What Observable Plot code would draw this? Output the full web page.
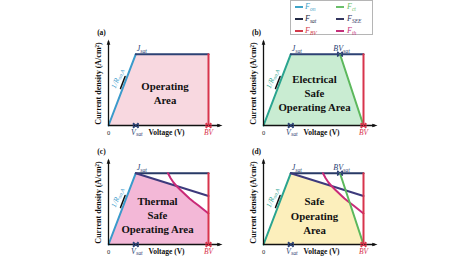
<!DOCTYPE html>
<html><head><meta charset="utf-8">
<script src="https://cdn.jsdelivr.net/npm/d3@7"></script>
<script src="https://cdn.jsdelivr.net/npm/@observablehq/plot@0.6"></script>
<style>
body{margin:0;background:#fff;}
#wrap{position:relative;width:474px;height:256px;overflow:hidden;background:#fff;font-family:"Liberation Serif",serif;}
#legend{position:absolute;left:290px;top:0px;width:83px;height:35px;border:1px solid #b5b5b5;box-sizing:border-box;background:#fff;}
.item{position:absolute;font-style:italic;font-size:8px;line-height:8px;white-space:nowrap;}
.item sub{font-size:5.5px;vertical-align:-1.5px;line-height:0;}
.sw{position:absolute;width:8px;height:1.6px;}
</style></head><body><div id="wrap"></div>
<script>
// ---- data (arbitrary schematic units) ----
const ids = ["(a)", "(b)", "(c)", "(d)"];
const areaNames = ["Operating\nArea", "Electrical\nSafe\nOperating Area", "Thermal\nSafe\nOperating Area", "Safe\nOperating\nArea"];
const limits = [["on","sat","BV"], ["on","sat","ct","BV"], ["on","sat","SEE","th","BV"], ["on","sat","SEE","th","ct","BV"]];
const Vsat = 27.3;
const BV = 100;
const BVsat = 76.5;
const Jsat = 71.3;
const JseeEnd = 48.5;
const thV = [59.5, 62, 65, 68, 72, 77, 81, 85, 90, 95, 100];
const thJ = [71.3, 66.5, 62, 58.5, 54.5, 49.7, 46, 42.8, 39, 35, 31];
const xMax = 114, yMax = 86;
const legendKeys = ["on", "ct", "sat", "SEE", "BV", "th"];
const legendSubs = ["on", "ct", "sat", "SEE", "BV", "th"];

// ---- styles / layout ----
const fills = ["#f8d8e0", "#c9ecd2", "#f3b8d7", "#fcefbc"];
const onColors = ["#3a9acb", "#2aa48f", "#3a9acb", "#2aa48f"];
const colors = {on: "#3fa3c6", ct: "#5cb85c", sat: "#283a66", SEE: "#3d3a7c", th: "#c92a78", BV: "#d8344c"};
const legendColors = {on: "#3fa3c6", ct: "#6bbf6b", sat: "#222a44", SEE: "#33365f", th: "#c4307a", BV: "#d23a4a"};
const labelPos = [[56.5, 33], [51, 33], [49, 30], [51, 29.5]];
const origins = [[108, 125], [263, 125], [108, 244], [263, 244]];
const navy = "#2d4274";

const th = thV.map((v, k) => [v, thJ[k]]);
const seeJ = v => Jsat + (JseeEnd - Jsat) * (v - Vsat) / (BV - Vsat);
const ctJ = v => Jsat * (BV - v) / (BV - BVsat);
function cross(f) {
  for (let k = 1; k < th.length; k++) {
    const a = th[k - 1], b = th[k];
    const da = a[1] - f(a[0]), db = b[1] - f(b[0]);
    if (da * db <= 0 && da !== db) {
      const t = da / (da - db);
      return [k, [a[0] + t * (b[0] - a[0]), a[1] + t * (b[1] - a[1])]];
    }
  }
  return [th.length, th[th.length - 1]];
}
const [kSee, pSee] = cross(seeJ);
const [kCt, pCt] = cross(ctJ);
const polys = [
  [[0, 0], [Vsat, Jsat], [BV, Jsat], [BV, 0]],
  [[0, 0], [Vsat, Jsat], [BVsat, Jsat], [BV, 0]],
  [[0, 0], [Vsat, Jsat], pSee, ...th.slice(kSee), [BV, 0]],
  [[0, 0], [Vsat, Jsat], pSee, ...th.slice(kSee, kCt), pCt, [BV, 0]]
];
const lines = {
  sat: [[Vsat, Jsat], [BV, Jsat]],
  SEE: [[Vsat, Jsat], [BV, JseeEnd]],
  th: th,
  ct: [[BVsat, Jsat], [BV, 0]],
  BV: [[BV, Jsat], [BV, 0]]
};

const bowtie = {draw(ctx, size) {
  const r = Math.sqrt(size / Math.PI);
  ctx.moveTo(-r, -r); ctx.lineTo(r, r);
  ctx.moveTo(-r, r); ctx.lineTo(r, -r);
  ctx.moveTo(-r, -r); ctx.lineTo(-r, r);
  ctx.moveTo(r, -r); ctx.lineTo(r, r);
}};
const arrowHead = {draw(ctx, size) {
  const r = Math.sqrt(size / Math.PI);
  ctx.moveTo(0, 0); ctx.lineTo(-r * 0.75, r * 2.2); ctx.lineTo(r * 0.75, r * 2.2); ctx.closePath();
}};

const X = d => d[0], Y = d => d[1];
const ns = "http://www.w3.org/2000/svg";
function applySubs(svg) {
  svg.querySelectorAll("text").forEach(t => {
    if (t.querySelector("tspan")) return;
    const s = t.textContent, k = s.indexOf("_");
    if (k < 0) return;
    t.textContent = "";
    const a = document.createElementNS(ns, "tspan"); a.textContent = s.slice(0, k);
    const b = document.createElementNS(ns, "tspan"); b.textContent = s.slice(k + 1);
    b.setAttribute("font-size", "72%"); b.setAttribute("dy", "1.8");
    t.append(a, b);
  });
}

const wrap = document.getElementById("wrap");
ids.forEach((id, i) => {
  const has = limits[i];
  const marks = [];
  marks.push(Plot.line(polys[i], {x: X, y: Y, fill: fills[i], stroke: "none"}));
  marks.push(Plot.line([[0, 0], [Vsat, Jsat]], {x: X, y: Y, stroke: onColors[i], strokeWidth: 2}));
  for (const key of ["sat", "SEE", "th", "ct", "BV"]) {
    if (has.includes(key)) marks.push(Plot.line(lines[key], {x: X, y: Y, stroke: key === "sat" && i < 2 ? navy : colors[key], strokeWidth: 2}));
  }
  // slope indicator
  marks.push(Plot.line([[12, 37], [16.6, 49]], {x: X, y: Y, stroke: "#111", strokeWidth: 1.5}));
  // axes
  marks.push(Plot.ruleY([0], {x1: 0, x2: xMax - 2, stroke: "#111", strokeWidth: 1.3}));
  marks.push(Plot.ruleX([0], {y1: 0, y2: yMax - 2, stroke: "#111", strokeWidth: 1.3}));
  marks.push(Plot.dot([[0, yMax]], {x: X, y: Y, symbol: arrowHead, r: 2.4, fill: "#111", stroke: "none"}));
  marks.push(Plot.dot([[xMax, 0]], {x: X, y: Y, symbol: arrowHead, r: 2.4, rotate: 90, fill: "#111", stroke: "none"}));
  // markers
  marks.push(Plot.dot([[Vsat, 0]], {x: X, y: Y, symbol: bowtie, r: 2.5, fill: "none", stroke: navy, strokeWidth: 1.1}));
  marks.push(Plot.dot([[BV, 0]], {x: X, y: Y, symbol: bowtie, r: 2.5, fill: "none", stroke: colors.BV, strokeWidth: 1.1}));
  if (has.includes("ct")) marks.push(Plot.dot([[BVsat, Jsat]], {x: X, y: Y, symbol: bowtie, r: 2.5, fill: "none", stroke: navy, strokeWidth: 1.1}));
  // texts
  marks.push(Plot.text([id], {x: () => 0, y: () => yMax, text: d => d, dx: -7, dy: -7, fontWeight: "bold", fontSize: 7.5, fill: "#111"}));
  marks.push(Plot.text(["Current density (A/cm²)"], {x: () => 0, y: () => 42, text: d => d, dx: -10, rotate: -90, fontWeight: "bold", fontSize: 8, fill: "#111"}));
  marks.push(Plot.text(["0"], {x: () => 0, y: () => 0, text: d => d, dy: 7, fontSize: 6.5, fill: "#222"}));
  marks.push(Plot.text(["Voltage (V)"], {x: () => 58, y: () => 0, text: d => d, dy: 7, fontWeight: "bold", fontSize: 7.5, fill: "#111"}));
  marks.push(Plot.text(["V_sat"], {x: () => Vsat, y: () => 0, text: d => d, dx: 1, dy: 6.5, fontStyle: "italic", fontSize: 8, fill: navy}));
  marks.push(Plot.text(["BV"], {x: () => BV, y: () => 0, text: d => d, dy: 7, fontStyle: "italic", fontSize: 7.5, fill: colors.BV}));
  marks.push(Plot.text(["J_sat"], {x: () => Vsat, y: () => Jsat, text: d => d, dx: 6, dy: -6, fontStyle: "italic", fontSize: 8, fill: navy}));
  if (has.includes("ct")) marks.push(Plot.text(["BV_sat"], {x: () => BVsat, y: () => Jsat, text: d => d, dx: 1.5, dy: -6, fontStyle: "italic", fontSize: 8, fill: navy}));
  marks.push(Plot.text(["1/R_on,A"], {x: () => 8.5, y: () => 47, text: d => d, rotate: -69, fontStyle: "italic", fontSize: 7.5, fill: onColors[i]}));
  marks.push(Plot.text([areaNames[i]], {x: () => labelPos[i][0], y: () => labelPos[i][1], text: d => d, fontWeight: "bold", fontSize: 10.8, lineHeight: 1.3, fill: "#111"}));

  const svg = Plot.plot({
    width: 150, height: 114,
    marginLeft: 24, marginRight: 12, marginTop: 10, marginBottom: 18,
    x: {domain: [0, xMax], axis: null},
    y: {domain: [0, yMax], axis: null},
    style: {background: "transparent", overflow: "visible", fontFamily: "'Liberation Serif', serif"},
    marks
  });
  applySubs(svg);
  svg.style.position = "absolute";
  svg.style.left = (origins[i][0] - 24) + "px";
  svg.style.top = (origins[i][1] - 96) + "px";
  wrap.appendChild(svg);
});

// legend
const legend = document.createElement("div");
legend.id = "legend";
legendKeys.forEach((key, k) => {
  const col = k % 2, row = Math.floor(k / 2);
  const sw = document.createElement("div");
  sw.className = "sw";
  sw.style.background = legendColors[key];
  sw.style.left = (col ? 45 : 4) + "px";
  sw.style.top = (5 + row * 12) + "px";
  legend.appendChild(sw);
  const it = document.createElement("div");
  it.className = "item";
  it.style.left = (col ? 56 : 14) + "px";
  it.style.top = (1.5 + row * 12) + "px";
  it.style.color = legendColors[key];
  it.innerHTML = "F<sub>" + legendSubs[k] + "</sub>";
  legend.appendChild(it);
});
wrap.appendChild(legend);
</script></body></html>
